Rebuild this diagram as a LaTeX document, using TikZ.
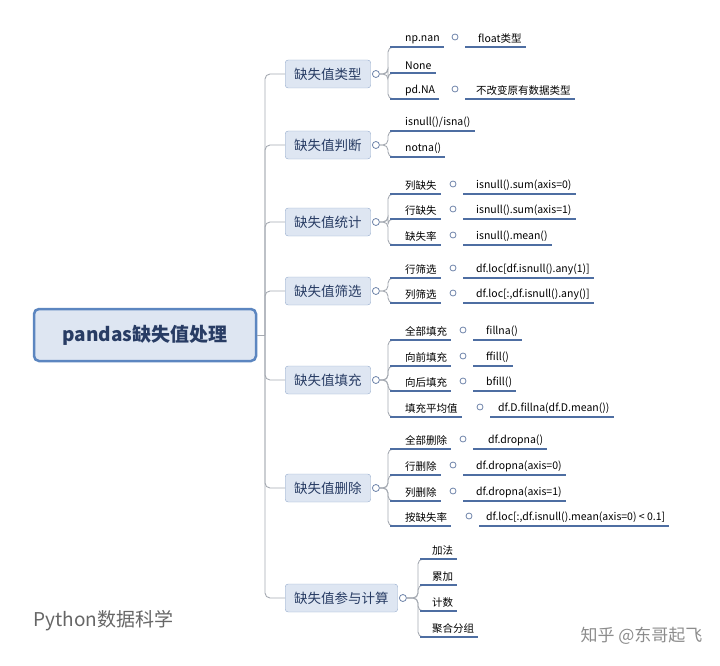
\documentclass[tikz,border=0pt]{standalone}
\usepackage{fontspec}
\setmainfont{Noto Sans CJK SC}
\definecolor{boxfill}{RGB}{222,230,242}
\definecolor{boxline}{RGB}{150,172,204}
\definecolor{rootline}{RGB}{92,134,192}
\definecolor{txt}{RGB}{40,60,100}
\definecolor{ulcol}{RGB}{78,110,162}
\definecolor{linkcol}{RGB}{165,170,178}
\definecolor{knobcol}{RGB}{110,132,170}
\tikzset{
  branch/.style={draw=boxline, fill=boxfill, rounded corners=3pt, minimum height=28pt,
    inner xsep=9pt, font=\fontsize{13.5}{13.5}\selectfont, text=txt},
  leaf/.style={anchor=south west, inner xsep=4pt, inner ysep=3pt,
    font=\fontsize{10.5}{10.5}\selectfont},
  uline/.style={draw=ulcol, line width=2.4pt},
  link/.style={draw=linkcol, line width=0.9pt, rounded corners=5pt},
  knob/.style={circle, draw=knobcol, line width=0.8pt, minimum size=7pt, inner sep=0pt, fill=white},
}
\begin{document}
\begin{tikzpicture}[x=1pt,y=-1pt]
\useasboundingbox (0,0) rectangle (720,666);
\node[draw=rootline, line width=2.5pt, fill=boxfill, rounded corners=5pt,
  minimum width=222pt, minimum height=52pt, text=txt,
  font=\fontsize{19}{19}\selectfont\bfseries] (root) at (145,335) {pandas缺失值处理};
\coordinate (trunk) at (265,335);
\draw[link] (root.east) -- (trunk);

% branch boxes
\foreach \y/\t [count=\i] in {74/缺失值类型,145/缺失值判断,222/缺失值统计,
    291/缺失值筛选,380/缺失值填充,488/缺失值删除,598/缺失值参与计算} {
  \node[branch, anchor=west] (b\i) at (285,\y) {\t};
  \draw[link] (trunk) |- (b\i.west);
  \node[knob] (k\i) at ([xshift=5pt]b\i.east) {};
}

% leaves: branch / underline y / text
\foreach \b/\y/\t in {1/47/np.nan,1/73/None,1/99/pd.NA,
    2/131/{isnull()/isna()},2/157/notna(),
    3/194/列缺失,3/219/行缺失,3/245/缺失率,
    4/278/行筛选,4/303/列筛选,
    5/340/全部填充,5/366/向前填充,5/391/向后填充,5/417/填充平均值,
    6/449/全部删除,6/475/行删除,6/501/列删除,6/526/按缺失率} {
  \node[leaf] (l) at (401,\y) {\t};
  \draw[link] (k\b.east) -- (388,0 |- k\b) |- (396,\y);
  \draw[uline] (390,\y) -- (l.south east);
}
\foreach \y/\t in {559/加法,585/累加,611/计数,637/聚合分组} {
  \node[leaf] (l) at (428,\y) {\t};
  \draw[link] (k7.east) -- (418,598) |- (426,\y);
  \draw[uline] (420,\y) -- (l.south east);
}

% second level: underline y / knob x / text x / text
\foreach \y/\cx/\tx/\t in {47/455/474/float类型,99/455/472/不改变原有数据类型,
    194/453/472/isnull().sum(axis=0),219/453/472/isnull().sum(axis=1),
    245/453/472/isnull().mean(),
    278/453/472/{df.loc[df.isnull().any(1)]},303/453/472/{df.loc[:,df.isnull().any()]},
    340/463/482/fillna(),366/463/482/ffill(),391/463/482/bfill(),
    417/480/494/df.D.fillna(df.D.mean()),
    449/463/484/df.dropna(),475/453/472/df.dropna(axis=0),
    501/453/472/df.dropna(axis=1),526/469/482/{df.loc[:,df.isnull().mean(axis=0) < 0.1]}} {
  \node[knob, minimum size=6pt] (s) at (\cx,\y-10) {};
  \node[leaf] (r) at (\tx,\y) {\t};
  \draw[uline] (\cx+10,\y) -- (r.south east);
}

\node[anchor=west, text=black!60, font=\fontsize{19}{19}\selectfont] (brand) at (30,621) {Python数据科学};
\node[anchor=east, text=black!45, font=\fontsize{17}{17}\selectfont] (mark) at (706,636) {知乎 @东哥起飞};
\end{tikzpicture}
\end{document}
